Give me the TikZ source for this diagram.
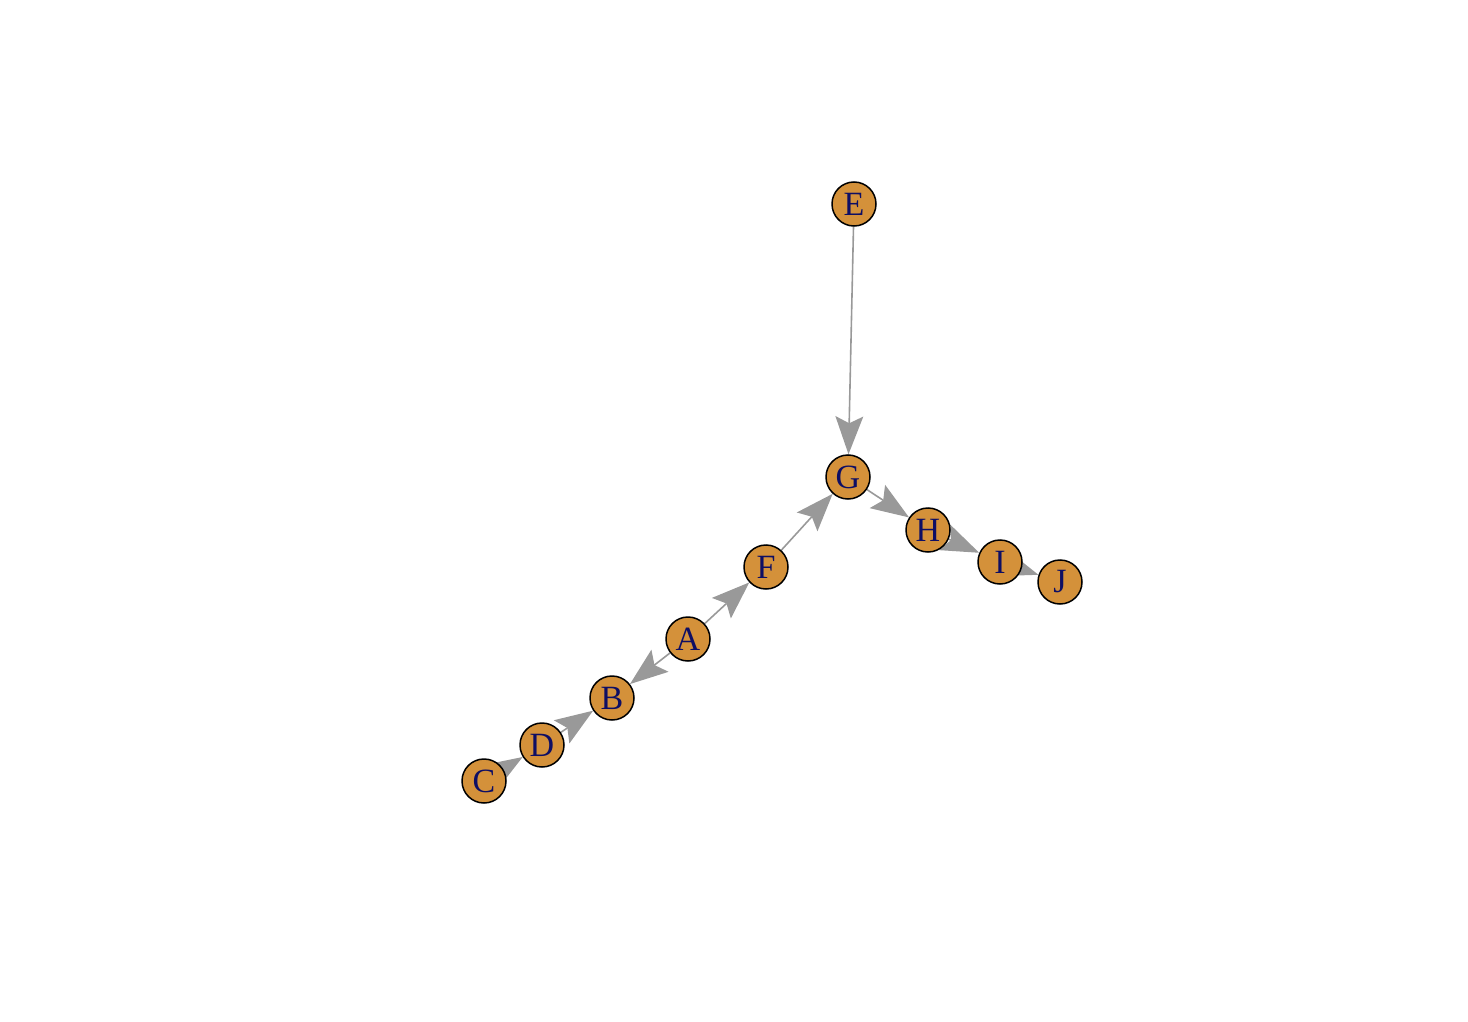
\documentclass[tikz,border=0pt]{standalone}
\usepackage{fontspec}
\setmainfont{Liberation Serif}
\usetikzlibrary{arrows.meta,backgrounds}
\definecolor{nodefill}{RGB}{212,145,58}
\definecolor{labelcol}{RGB}{14,14,100}
\definecolor{edgecol}{RGB}{153,153,153}
\tikzset{
  vtx/.style={circle,draw=black,line width=0.75pt,fill=nodefill,minimum size=22pt,inner sep=0pt,
    font=\fontsize{17}{17}\selectfont,text=labelcol},
  edg/.style={draw=edgecol,line width=0.8pt,-{Stealth[length=19pt,width=14pt,inset=3.5pt,fill=edgecol,color=edgecol,line width=0pt]}}
}
\begin{document}
\begin{tikzpicture}[x=0.5pt,y=-0.5pt]
\useasboundingbox (0,0) rectangle (1468,1022);
\node[vtx] (E) at (854,204) {E};
\node[vtx] (G) at (848,477) {G};
\node[vtx] (H) at (928,530) {H};
\node[vtx] (I) at (1000,562) {I};
\node[vtx] (J) at (1060,582) {J};
\node[vtx] (F) at (766,567) {F};
\node[vtx] (A) at (688,639) {A};
\node[vtx] (B) at (612,698) {B};
\node[vtx] (D) at (542,745) {D};
\node[vtx] (C) at (484,781) {C};
\begin{pgfonlayer}{background}
\draw[edg] (E) -- (G);
\draw[edg] (F) -- (G);
\draw[edg] (A) -- (F);
\draw[edg] (A) -- (B);
\draw[edg] (D) -- (B);
\draw[edg] (C) -- (D);
\draw[edg] (G) -- (H);
\draw[edg] (H) -- (I);
\draw[edg] (I) -- (J);
\end{pgfonlayer}
\end{tikzpicture}
\end{document}
